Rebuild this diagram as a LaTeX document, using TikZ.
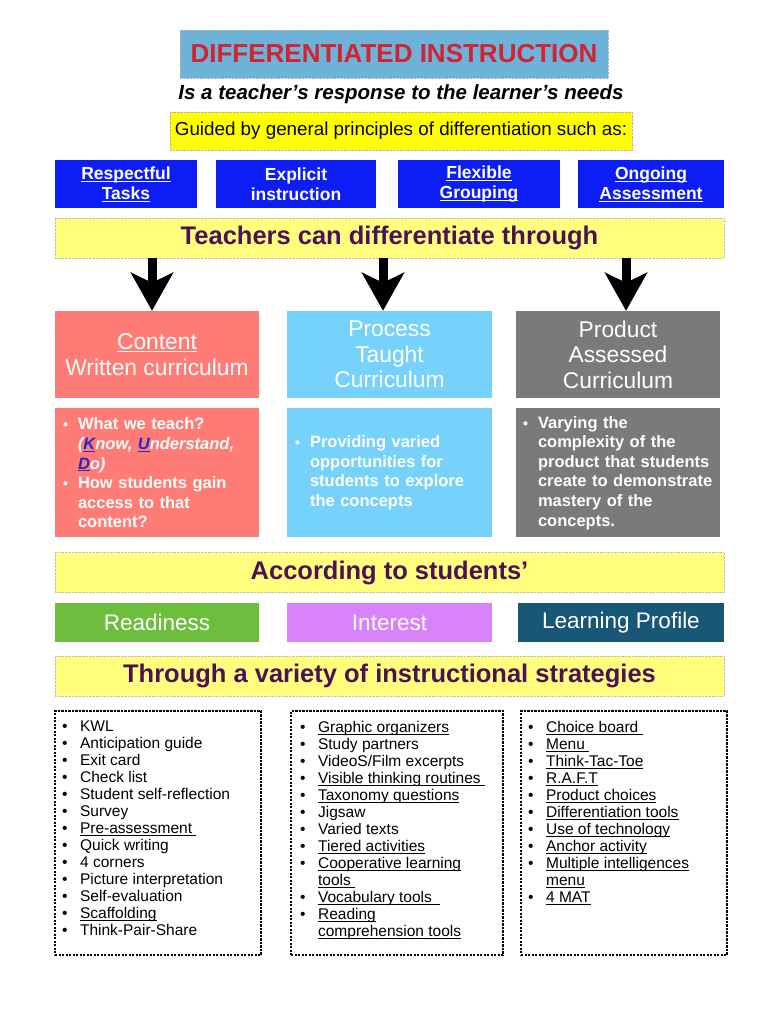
\documentclass[tikz,border=0pt]{standalone}
\usepackage{fontspec}
\setmainfont{Liberation Sans}
\usetikzlibrary{positioning,arrows.meta}

\definecolor{titleblue}{RGB}{108,178,217}
\definecolor{titlered}{RGB}{212,35,48}
\definecolor{guideyellow}{RGB}{255,255,0}
\definecolor{tileblue}{RGB}{12,30,245}
\definecolor{bandyellow}{RGB}{255,255,125}
\definecolor{bandpurple}{RGB}{78,16,84}
\definecolor{contentred}{RGB}{255,124,118}
\definecolor{processblue}{RGB}{118,210,250}
\definecolor{productgray}{RGB}{122,122,122}
\definecolor{readygreen}{RGB}{110,190,62}
\definecolor{interestpink}{RGB}{216,132,248}
\definecolor{profileteal}{RGB}{25,87,118}
\definecolor{kudblue}{RGB}{40,40,200}

\newcommand{\ulin}[1]{\underline{\smash{#1}}\vphantom{#1}}
\newcommand{\lbul}{\makebox[18pt][l]{\textbullet}}
\newcommand{\lgap}{\hspace*{18pt}}
\newcommand{\dbul}{\makebox[15pt][l]{\fontsize{14}{14}\selectfont\textbullet}}
\newcommand{\dgap}{\hspace*{15pt}}
\newcommand{\kud}[1]{{\color{kudblue}\bfseries\ulin{#1}}}

\tikzset{
	titlebox/.style = {draw=gray!60, densely dotted, fill=titleblue, text=titlered, minimum width=428, minimum height=48, font=\fontsize{26}{30}\selectfont\bfseries},
	subtitle/.style = {inner sep=0pt, font=\fontsize{20.5}{24}\selectfont\bfseries\itshape},
	guidebox/.style = {draw=gray!60, densely dotted, fill=guideyellow, minimum width=462, minimum height=38, font=\fontsize{18.8}{22}\selectfont},
	tile/.style     = {fill=tileblue, text=white, align=center, minimum height=48, inner sep=0pt, font=\fontsize{17.5}{20}\selectfont\bfseries},
	band/.style     = {draw=gray!50, densely dotted, fill=bandyellow, text=bandpurple, minimum width=669, minimum height=40, font=\fontsize{25.5}{29}\selectfont\bfseries},
	area/.style     = {text=white, align=center, minimum width=204, minimum height=87, font=\fontsize{22.8}{25.5}\selectfont},
	detail/.style   = {text=white, align=left, text width=188, inner xsep=8pt, minimum height=129, font=\fontsize{16.5}{19.6}\selectfont\bfseries},
	profile/.style  = {text=white, minimum width=204, minimum height=39, font=\fontsize{22.5}{26}\selectfont},
	listbox/.style  = {draw, line width=2.2pt, dash pattern=on 2.2pt off 1.3pt, minimum width=206, minimum height=244},
	listtext/.style = {align=left, inner sep=0pt, anchor=north west, font=\fontsize{15.5}{17}\selectfont},
	bigarrow/.style = {line width=9pt, -{Stealth[length=38pt, width=42pt, inset=10pt]}},
}

\begin{document}
\begin{tikzpicture}[x=1pt, y=-1pt]
	\useasboundingbox (0,0) rectangle (768,1024);

	% Draw the heading
	\node[titlebox] (title)    at (394,54)  {DIFFERENTIATED INSTRUCTION};
	\node[subtitle] (response) at (401,94)  {Is a teacher’s response to the learner’s needs};
	\node[guidebox] (guided)   at (401,131) {Guided by general principles of differentiation such as:};

	% Draw the principles
	\node[tile, minimum width=142] (respectful) at (126,184)   {\ulin{Respectful}\\\ulin{Tasks}};
	\node[tile, minimum width=160] (explicit)   at (296,184)   {Explicit\\instruction};
	\node[tile, minimum width=162] (flexible)   at (479,184)   {\ulin{Flexible}\\\ulin{Grouping}};
	\node[tile, minimum width=146] (ongoing)    at (651,184)   {\ulin{Ongoing}\\\ulin{Assessment}};
	\node[band]                    (teach)      at (389.5,238) {Teachers can differentiate through};

	% Draw the three ways
	\node[area, fill=contentred]                    (content) at (157,354.5)   {\ulin{Content}\\Written curriculum};
	\node[area, fill=processblue, minimum width=205] (process) at (389.5,354.5) {Process\\Taught\\Curriculum};
	\node[area, fill=productgray]                   (product) at (618,354.5)   {Product\\Assessed\\Curriculum};

	\node[detail, fill=contentred,  below=10pt of content] (contentinfo) {\dbul What we teach?\\
		\dgap\textit{(\kud{K}now, \kud{U}nderstand,}\\
		\dgap\textit{\kud{D}o)}\\
		\dbul How students gain\\
		\dgap access to that\\
		\dgap content?};
	\node[detail, fill=processblue, below=10pt of process, text width=189] (processinfo) {\dbul Providing varied\\
		\dgap opportunities for\\
		\dgap students to explore\\
		\dgap the concepts};
	\node[detail, fill=productgray, below=10pt of product, inner xsep=7pt, text width=190] (productinfo) {\dbul Varying the\\
		\dgap complexity of the\\
		\dgap product that students\\
		\dgap create to demonstrate\\
		\dgap mastery of the\\
		\dgap concepts.};

	% Connect the band to the three ways
	\coordinate (contentin) at ([xshift=-5pt]content.north);
	\coordinate (processin) at ([xshift=-6.5pt]process.north);
	\coordinate (productin) at ([xshift=8pt]product.north);
	\draw[bigarrow] (teach.south -| contentin) -- (contentin);
	\draw[bigarrow] (teach.south -| processin) -- (processin);
	\draw[bigarrow] (teach.south -| productin) -- (productin);

	% Draw the students' side
	\node[band] (according) at (389.5,572.5) {According to students’};
	\node[profile, fill=readygreen]                     (readiness) at (157,622.5)   {Readiness};
	\node[profile, fill=interestpink, minimum width=205] (interest)  at (389.5,622.5) {Interest};
	\node[profile, fill=profileteal, minimum width=206]  (learning)  at (621,622.5)   {Learning Profile};
	\node[band] (strategies) at (389.5,676) {Through a variety of instructional strategies};

	% Draw the strategy lists
	\node[listbox]                   (readylist)    at (158,833) {};
	\node[listbox, minimum width=212] (interestlist) at (397,833) {};
	\node[listbox]                   (profilelist)  at (624,833) {};

	\node[listtext] (readyitems) at ([xshift=8pt, yshift=-11pt]readylist.north west) {\lbul KWL\\
		\lbul Anticipation guide\\
		\lbul Exit card\\
		\lbul Check list\\
		\lbul Student self-reflection\\
		\lbul Survey\\
		\lbul \ulin{Pre-assessment\ }\\
		\lbul Quick writing\\
		\lbul 4 corners\\
		\lbul Picture interpretation\\
		\lbul Self-evaluation\\
		\lbul \ulin{Scaffolding}\\
		\lbul Think-Pair-Share};
	\node[listtext] (interestitems) at ([xshift=10pt, yshift=-11pt]interestlist.north west) {\lbul \ulin{Graphic organizers}\\
		\lbul Study partners\\
		\lbul VideoS/Film excerpts\\
		\lbul \ulin{Visible thinking routines\ }\\
		\lbul \ulin{Taxonomy questions}\\
		\lbul Jigsaw\\
		\lbul Varied texts\\
		\lbul \ulin{Tiered activities}\\
		\lbul \ulin{Cooperative learning}\\
		\lgap \ulin{tools\ }\\
		\lbul \ulin{Vocabulary tools\ \ }\\
		\lbul \ulin{Reading}\\
		\lgap \ulin{comprehension tools}};
	\node[listtext] (profileitems) at ([xshift=8pt, yshift=-11pt]profilelist.north west) {\lbul \ulin{Choice board\ }\\
		\lbul \ulin{Menu\ }\\
		\lbul \ulin{Think-Tac-Toe}\\
		\lbul \ulin{R.A.F.T}\\
		\lbul \ulin{Product choices}\\
		\lbul \ulin{Differentiation tools}\\
		\lbul \ulin{Use of technology}\\
		\lbul \ulin{Anchor activity}\\
		\lbul \ulin{Multiple intelligences}\\
		\lgap \ulin{menu}\\
		\lbul \ulin{4 MAT}};
\end{tikzpicture}
\end{document}
